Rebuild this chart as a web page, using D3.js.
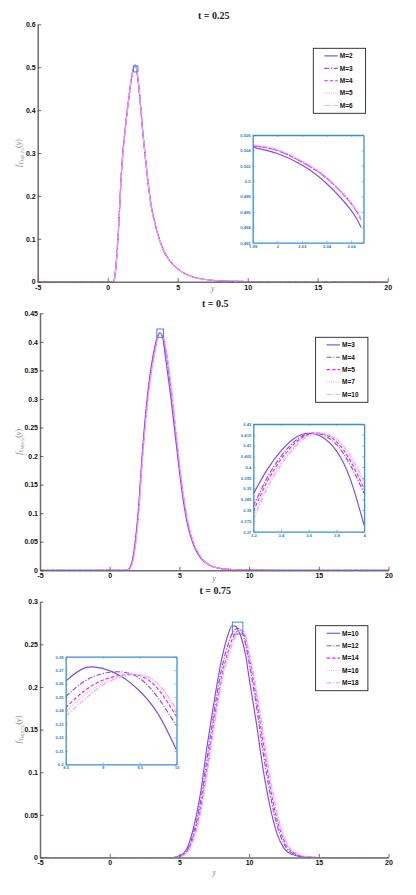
<!DOCTYPE html>
<html>
<head>
<meta charset="utf-8">
<script src="https://cdn.jsdelivr.net/npm/d3@7"></script>
<style>
    body { margin: 0; background: #fff; }
    svg { display: block; }
    .main-axis text { font-family: "Liberation Sans", Arial, sans-serif; font-weight: bold; font-size: 7px; fill: #111; }
    .main-axis .domain { stroke: #6e6e6e; stroke-width: 1.5; }
    .main-axis line { stroke: #444; stroke-width: 0.8; }
    .inset-axis text { font-family: "Liberation Sans", Arial, sans-serif; font-weight: bold; font-size: 4.2px; fill: #2f80d0; }
    .inset-axis .domain { stroke: #3a8fd8; stroke-width: 1.3; }
    .inset-axis line { stroke: #3a8fd8; stroke-width: 0.6; }
    .legend text { font-family: "Liberation Sans", Arial, sans-serif; font-weight: bold; font-size: 6.5px; fill: #111; }
</style>
</head>
<body>
<script>

// ---------- data ----------
var titles = ["t = 0.25", "t = 0.5", "t = 0.75"];
var tValues = ["0.25", "0.5", "0.75"];
var legend1 = ["M=2", "M=3", "M=4", "M=5", "M=6"];
var legend2 = ["M=3", "M=4", "M=5", "M=7", "M=10"];
var legend3 = ["M=10", "M=12", "M=14", "M=16", "M=18"];

var xTicks = [-5, 0, 5, 10, 15, 20];
var yTicks1 = [0, 0.1, 0.2, 0.3, 0.4, 0.5, 0.6];
var yTicks2 = [0, 0.05, 0.1, 0.15, 0.2, 0.25, 0.3, 0.35, 0.4, 0.45];
var yTicks3 = [0, 0.05, 0.1, 0.15, 0.2, 0.25, 0.3];

// panel 1, t = 0.25
var x1 = [-5, 0, 0.4, 0.5, 0.6, 0.75, 1, 1.25, 1.5, 1.75, 1.95, 2, 2.1, 2.25, 2.5, 2.75, 3, 3.5, 4, 4.5, 5, 6, 7, 8, 10, 20];
var p1_M2 = [0, 0, 0, 0.01, 0.04, 0.11, 0.265, 0.355, 0.425, 0.484, 0.5044, 0.5036, 0.4872, 0.445, 0.35, 0.27, 0.2, 0.12, 0.072, 0.046, 0.03, 0.012, 0.005, 0.002, 0.0005, 0];
var p1_M3 = [0, 0, 0, 0.009, 0.039, 0.109, 0.264, 0.355, 0.426, 0.485, 0.5046, 0.5040, 0.4880, 0.446, 0.351, 0.271, 0.2, 0.12, 0.072, 0.046, 0.03, 0.012, 0.005, 0.002, 0.0005, 0];
var p1_M4 = [0, 0, 0, 0.009, 0.039, 0.109, 0.264, 0.355, 0.426, 0.485, 0.5047, 0.5040, 0.4881, 0.446, 0.351, 0.271, 0.2, 0.12, 0.072, 0.046, 0.03, 0.012, 0.005, 0.002, 0.0005, 0];
var p1_M5 = [0, 0, 0, 0.009, 0.039, 0.109, 0.264, 0.355, 0.426, 0.485, 0.5047, 0.5041, 0.4881, 0.446, 0.351, 0.271, 0.2, 0.12, 0.072, 0.046, 0.03, 0.012, 0.005, 0.002, 0.0005, 0];
var p1_M6 = [0, 0, 0, 0.009, 0.039, 0.109, 0.264, 0.355, 0.426, 0.485, 0.5047, 0.5041, 0.4882, 0.446, 0.351, 0.271, 0.2, 0.12, 0.072, 0.046, 0.03, 0.012, 0.005, 0.002, 0.0005, 0];

var ix1 = [1.98, 2.0, 2.02, 2.04, 2.06, 2.068];
var i1_M2 = [0.5044, 0.5036, 0.5021, 0.4997, 0.4962, 0.4940];
var i1_M3 = [0.5046, 0.5040, 0.5025, 0.5004, 0.4971, 0.4950];
var i1_M4 = [0.5046, 0.5040, 0.5025, 0.5004, 0.4971, 0.4950];
var i1_M5 = [0.5047, 0.5041, 0.5026, 0.5005, 0.4972, 0.4951];
var i1_M6 = [0.5047, 0.5041, 0.5026, 0.5005, 0.4972, 0.4951];
var insetX1 = [1.98, 2.07], insetY1 = [0.492, 0.506];
var insetXTicks1 = [1.98, 2, 2.02, 2.04, 2.06];
var insetYTicks1 = [0.492, 0.494, 0.496, 0.498, 0.5, 0.502, 0.504, 0.506];
var zoom1 = [1.83, 2.16, 0.489, 0.503];

// panel 2, t = 0.5
var x2 = [-5, 1, 1.3, 1.6, 2, 2.4, 2.8, 3.2, 3.4, 3.6, 3.8, 4, 4.4, 4.8, 5.2, 5.6, 6, 6.5, 7, 8, 9, 10, 12, 20];
var p2_M3  = [0, 0, 0.001, 0.015, 0.090, 0.225, 0.325, 0.3875, 0.4075, 0.4157, 0.4075, 0.3730, 0.300, 0.215, 0.135, 0.078, 0.045, 0.022, 0.011, 0.003, 0.001, 0.0003, 0, 0];
var p2_M4  = [0, 0, 0.001, 0.013, 0.084, 0.217, 0.319, 0.3818, 0.4050, 0.4155, 0.4105, 0.3878, 0.316, 0.226, 0.143, 0.083, 0.048, 0.024, 0.012, 0.003, 0.001, 0.0003, 0, 0];
var p2_M5  = [0, 0, 0.001, 0.012, 0.081, 0.213, 0.316, 0.3795, 0.4036, 0.4152, 0.4118, 0.3900, 0.320, 0.229, 0.145, 0.085, 0.049, 0.024, 0.012, 0.003, 0.001, 0.0003, 0, 0];
var p2_M7  = [0, 0, 0.001, 0.011, 0.078, 0.210, 0.313, 0.3770, 0.4020, 0.4148, 0.4125, 0.3920, 0.323, 0.232, 0.147, 0.086, 0.050, 0.025, 0.012, 0.003, 0.001, 0.0003, 0, 0];
var p2_M10 = [0, 0, 0.001, 0.010, 0.076, 0.208, 0.311, 0.3755, 0.4010, 0.4145, 0.4130, 0.3935, 0.325, 0.234, 0.148, 0.087, 0.050, 0.025, 0.012, 0.003, 0.001, 0.0003, 0, 0];

var ix2 = [3.2, 3.3, 3.4, 3.5, 3.6, 3.7, 3.8, 3.9, 4.0];
var i2_M3  = [0.3875, 0.3988, 0.4075, 0.4135, 0.4157, 0.4138, 0.4075, 0.3945, 0.3730];
var i2_M4  = [0.3818, 0.3950, 0.4050, 0.4120, 0.4155, 0.4150, 0.4105, 0.4010, 0.3878];
var i2_M5  = [0.3795, 0.3932, 0.4036, 0.4110, 0.4152, 0.4155, 0.4118, 0.4030, 0.3900];
var i2_M7  = [0.3770, 0.3912, 0.4020, 0.4100, 0.4148, 0.4156, 0.4125, 0.4045, 0.3920];
var i2_M10 = [0.3755, 0.3900, 0.4010, 0.4093, 0.4145, 0.4157, 0.4130, 0.4055, 0.3935];
var insetX2 = [3.2, 4], insetY2 = [0.37, 0.42];
var insetXTicks2 = [3.2, 3.4, 3.6, 3.8, 4];
var insetYTicks2 = [0.37, 0.375, 0.38, 0.385, 0.39, 0.395, 0.4, 0.405, 0.41, 0.415, 0.42];
var zoom2 = [3.38, 3.86, 0.408, 0.4225];

// panel 3, t = 0.75
var x3 = [-5, 4.5, 5, 5.5, 6, 6.5, 7, 7.5, 8, 8.5, 8.75, 9, 9.25, 9.5, 9.75, 10, 10.5, 11, 11.5, 12, 12.5, 13, 14, 15, 20];
var p3_M10 = [0, 0, 0.002, 0.009, 0.034, 0.074, 0.132, 0.184, 0.230, 0.2619, 0.2715, 0.2713, 0.2655, 0.2545, 0.2375, 0.2107, 0.160, 0.104, 0.060, 0.028, 0.011, 0.004, 0.0005, 0, 0];
var p3_M12 = [0, 0, 0.001, 0.007, 0.028, 0.064, 0.118, 0.172, 0.219, 0.2503, 0.2616, 0.2674, 0.2687, 0.2640, 0.2495, 0.2285, 0.180, 0.124, 0.075, 0.038, 0.016, 0.006, 0.0008, 0, 0];
var p3_M14 = [0, 0, 0.001, 0.006, 0.024, 0.057, 0.108, 0.162, 0.210, 0.2421, 0.2545, 0.2625, 0.2662, 0.2660, 0.2560, 0.2354, 0.190, 0.136, 0.084, 0.045, 0.020, 0.008, 0.001, 0, 0];
var p3_M16 = [0, 0, 0.001, 0.005, 0.022, 0.053, 0.104, 0.158, 0.207, 0.2391, 0.2512, 0.2605, 0.2660, 0.2664, 0.2590, 0.2380, 0.196, 0.143, 0.090, 0.050, 0.023, 0.009, 0.0013, 0, 0];
var p3_M18 = [0, 0, 0.001, 0.005, 0.020, 0.050, 0.100, 0.154, 0.204, 0.2359, 0.2480, 0.2588, 0.2650, 0.2665, 0.2600, 0.2409, 0.200, 0.148, 0.095, 0.053, 0.025, 0.010, 0.0015, 0, 0];

var ix3 = [8.5, 8.75, 9, 9.25, 9.5, 9.75, 10];
var i3_M10 = [0.2619, 0.2715, 0.2713, 0.2655, 0.2545, 0.2375, 0.2107];
var i3_M12 = [0.2503, 0.2616, 0.2674, 0.2687, 0.2640, 0.2495, 0.2285];
var i3_M14 = [0.2421, 0.2545, 0.2625, 0.2662, 0.2660, 0.2560, 0.2354];
var i3_M16 = [0.2391, 0.2512, 0.2605, 0.2660, 0.2664, 0.2590, 0.2380];
var i3_M18 = [0.2359, 0.2480, 0.2588, 0.2650, 0.2665, 0.2600, 0.2409];
var insetX3 = [8.5, 10], insetY3 = [0.2, 0.28];
var insetXTicks3 = [8.5, 9, 9.5, 10];
var insetYTicks3 = [0.2, 0.21, 0.22, 0.23, 0.24, 0.25, 0.26, 0.27, 0.28];
var zoom3 = [8.8, 9.55, 0.262, 0.276];

// ---------- styles and layout ----------
var lineStyles = [
    { color: "#7a4cf5", dash: null },
    { color: "#8f45ff", dash: "5,1.6,1.2,1.6" },
    { color: "#f01ff0", dash: "3.5,2" },
    { color: "#d3c2ff", dash: "1,1.2" },
    { color: "#ff9ef8", dash: "5,1.6,1.2,1.6" }
];

var panels = [
    { title: titles[0], t: tValues[0], legend: legend1, x: x1, ys: [p1_M2, p1_M3, p1_M4, p1_M5, p1_M6],
      yTicks: yTicks1, left: 37.7, right: 387.7, top: 24.3, bottom: 281.7, titleY: 19, xlabY: 291,
      zoom: zoom1,
      inset: { x: ix1, ys: [i1_M2, i1_M3, i1_M4, i1_M5, i1_M6], xd: insetX1, yd: insetY1,
               xt: insetXTicks1, yt: insetYTicks1, dx: 215, dy: 110.7 } },
    { title: titles[1], t: tValues[1], legend: legend2, x: x2, ys: [p2_M3, p2_M4, p2_M5, p2_M7, p2_M10],
      yTicks: yTicks2, left: 40, right: 388.5, top: 313.3, bottom: 570.3, titleY: 307, xlabY: 581,
      zoom: zoom2,
      inset: { x: ix2, ys: [i2_M3, i2_M4, i2_M5, i2_M7, i2_M10], xd: insetX2, yd: insetY2,
               xt: insetXTicks2, yt: insetYTicks2, dx: 213.3, dy: 110.7 } },
    { title: titles[2], t: tValues[2], legend: legend3, x: x3, ys: [p3_M10, p3_M12, p3_M14, p3_M16, p3_M18],
      yTicks: yTicks3, left: 40, right: 388.5, top: 601.7, bottom: 857.5, titleY: 594, xlabY: 875,
      zoom: zoom3,
      inset: { x: ix3, ys: [i3_M10, i3_M12, i3_M14, i3_M16, i3_M18], xd: insetX3, yd: insetY3,
               xt: insetXTicks3, yt: insetYTicks3, dx: 25.7, dy: 55 } }
];

var svg = d3.select("body").append("svg")
    .attr("width", 416)
    .attr("height", 895);

function styleLine(sel, i) {
    sel.attr("fill", "none")
        .attr("stroke", lineStyles[i].color)
        .attr("stroke-width", 1.15)
        .attr("stroke-dasharray", lineStyles[i].dash);
}

var fmt = function (d) { return String(d); };

panels.forEach(function (p, pi) {
    var x = d3.scaleLinear().domain([xTicks[0], xTicks[xTicks.length - 1]]).range([p.left, p.right]);
    var y = d3.scaleLinear().domain([0, p.yTicks[p.yTicks.length - 1]]).range([p.bottom, p.top]);
    var g = svg.append("g");

    // curves
    p.ys.forEach(function (vals, i) {
        var line = d3.line()
            .x(function (d, k) { return x(p.x[k]); })
            .y(function (d) { return y(d); })
            .curve(d3.curveMonotoneX);
        g.append("path").datum(vals).attr("d", line).call(styleLine, i);
    });

    // axes, ticks pointing in
    g.append("g").attr("class", "main-axis")
        .attr("transform", "translate(0," + p.bottom + ")")
        .call(d3.axisBottom(x).tickValues(xTicks).tickSize(-3.5).tickSizeOuter(0).tickPadding(3).tickFormat(fmt));
    g.append("g").attr("class", "main-axis")
        .attr("transform", "translate(" + p.left + ",0)")
        .call(d3.axisLeft(y).tickValues(p.yTicks).tickSize(-3.5).tickSizeOuter(0).tickPadding(2).tickFormat(fmt));

    // zoom window marker
    g.append("rect")
        .attr("x", x(p.zoom[0])).attr("y", y(p.zoom[3]))
        .attr("width", x(p.zoom[1]) - x(p.zoom[0]))
        .attr("height", y(p.zoom[2]) - y(p.zoom[3]))
        .attr("fill", "none").attr("stroke", "#3a8fd8").attr("stroke-width", 1);

    // title
    g.append("text")
        .attr("x", (p.left + p.right) / 2 + 1).attr("y", p.titleY)
        .attr("text-anchor", "middle")
        .attr("font-family", "'Liberation Serif', 'DejaVu Serif', serif")
        .attr("font-weight", "bold").attr("font-size", 10).attr("fill", "#222")
        .text(p.title);

    // x label
    g.append("text")
        .attr("x", (p.left + p.right) / 2).attr("y", p.xlabY)
        .attr("text-anchor", "middle")
        .attr("font-family", "'Liberation Serif', serif").attr("font-style", "italic")
        .attr("font-size", 7.5).attr("fill", "#777")
        .text("y");

    // y label f_{Y_M(t)}(y)
    var yl = g.append("text")
        .attr("transform", "translate(21," + ((p.top + p.bottom) / 2) + ") rotate(-90)")
        .attr("text-anchor", "middle")
        .attr("font-family", "'Liberation Serif', serif")
        .attr("font-size", 8).attr("fill", "#888");
    yl.append("tspan").attr("font-style", "italic").text("f");
    yl.append("tspan").attr("font-size", 5.5).attr("dy", 2).attr("font-style", "italic").text("Y");
    yl.append("tspan").attr("font-size", 4.2).attr("dy", 1).attr("font-style", "italic").text("M");
    yl.append("tspan").attr("font-size", 4.2).text("(" + p.t + ")");
    yl.append("tspan").attr("dy", -3).text("(");
    yl.append("tspan").attr("font-style", "italic").text("y");
    yl.append("tspan").text(")");

    // legend
    var lx = p.left + 275.6, ly = p.top + 24;
    var lg = g.append("g").attr("class", "legend").attr("transform", "translate(" + lx + "," + ly + ")");
    lg.append("rect").attr("width", 52.3).attr("height", 65)
        .attr("fill", "#fff").attr("stroke", "#222").attr("stroke-width", 0.9);
    p.legend.forEach(function (name, i) {
        var yy = 7.6 + i * 12.4;
        lg.append("line").attr("x1", 11).attr("x2", 24.5).attr("y1", yy).attr("y2", yy).call(styleLine, i);
        lg.append("text").attr("x", 26.5).attr("y", yy + 2.3).text(name);
    });

    // inset
    var ins = p.inset;
    var ix0 = p.left + ins.dx, iy0 = p.top + ins.dy, iw = 110.8, ih = 107.7;
    var sx = d3.scaleLinear().domain(ins.xd).range([ix0, ix0 + iw]);
    var sy = d3.scaleLinear().domain(ins.yd).range([iy0 + ih, iy0]);
    var ig = g.append("g");
    ig.append("rect").attr("x", ix0).attr("y", iy0).attr("width", iw).attr("height", ih).attr("fill", "#fff");
    var clipId = "clip" + pi;
    ig.append("clipPath").attr("id", clipId).append("rect")
        .attr("x", ix0).attr("y", iy0).attr("width", iw).attr("height", ih);
    ins.ys.forEach(function (vals, i) {
        var line = d3.line()
            .x(function (d, k) { return sx(ins.x[k]); })
            .y(function (d) { return sy(d); })
            .curve(d3.curveNatural);
        ig.append("path").datum(vals).attr("d", line).attr("clip-path", "url(#" + clipId + ")").call(styleLine, i);
    });
    ig.append("g").attr("class", "inset-axis").attr("transform", "translate(0," + (iy0 + ih) + ")")
        .call(d3.axisBottom(sx).tickValues(ins.xt).tickSize(-2).tickSizeOuter(0).tickPadding(2).tickFormat(fmt));
    ig.append("g").attr("class", "inset-axis").attr("transform", "translate(0," + iy0 + ")")
        .call(d3.axisTop(sx).tickValues(ins.xt).tickSize(-2).tickSizeOuter(0).tickFormat(""));
    ig.append("g").attr("class", "inset-axis").attr("transform", "translate(" + ix0 + ",0)")
        .call(d3.axisLeft(sy).tickValues(ins.yt).tickSize(-2).tickSizeOuter(0).tickPadding(2).tickFormat(fmt));
    ig.append("g").attr("class", "inset-axis").attr("transform", "translate(" + (ix0 + iw) + ",0)")
        .call(d3.axisRight(sy).tickValues(ins.yt).tickSize(-2).tickSizeOuter(0).tickFormat(""));
});

</script>
</body>
</html>
